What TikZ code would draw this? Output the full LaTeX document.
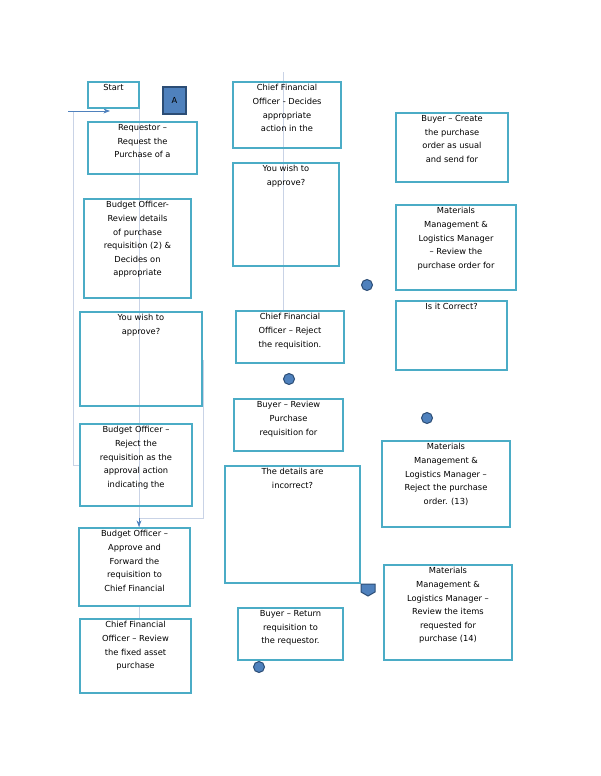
\documentclass[tikz,border=0pt]{standalone}
\usepackage{fontspec}
\setmainfont{DejaVu Sans}
\usetikzlibrary{arrows.meta,positioning,shapes.geometric}
\definecolor{boxline}{HTML}{4BACC6}
\definecolor{linkline}{HTML}{C9D3E6}
\definecolor{dotfill}{HTML}{4F81BD}
\definecolor{dotline}{HTML}{2C4D75}
\tikzset{>={Stealth[scale=1]}}
\tikzset{
  stepbox/.style={draw=boxline, line width=1.4pt, inner sep=0pt},
  steptext/.style={below=3pt, align=center, font=\fontsize{8.3}{13.6}\selectfont, inner sep=0pt},
  link/.style={draw=linkline, line width=0.8pt},
  dot/.style={circle, draw=dotline, fill=dotfill, line width=1pt, minimum size=11pt, inner sep=0pt},
}
% box from corner (x1,y1) to (x2,y2), text hanging from its top
\newcommand{\flowbox}[6]{%
  \node[stepbox, minimum width={#4-#2}, minimum height={#5-#3}] (#1) at ({(#2+#4)/2},{(#3+#5)/2}) {};
  \node[steptext] (#1t) at (#1.north) {#6};}
\begin{document}
\begin{tikzpicture}[x=1pt, y=-1pt]
      \useasboundingbox (0,0) rectangle (600,776);
      \coordinate (topl) at (68,111);
      \coordinate (loopl) at (73,111);
      \coordinate (loopr) at (203,518);
      \coordinate (cfotop) at (283,72);
      % connectors (behind the boxes)
      \draw[link] (139,108) -- (139,528);
      \draw[link] (139,606) -- (139,619);
      \draw[link] (topl) -- (loopl) |- (80,465);
      \draw[link, ->, dotfill] (topl) -- (110,111);
      \draw[link] (202,360) -| (loopr) -- (139,518);
      \draw[link, ->, dotfill] (139,518) -- (139,527);
      \draw[link] (cfotop) -- (283,311);
      % left column
      \flowbox{start}{88}{82}{139}{108}{Start}
      \node[draw=dotline, fill=dotfill, line width=1.2pt, minimum width=23pt, minimum height=27pt, inner sep=0pt,
        font=\fontsize{8.3}{10}\selectfont] (pageA) at (174.5,100.5) {A};
      \flowbox{request}{88}{122}{197}{174}{Requestor –\\Request the\\Purchase of a}
      \flowbox{budget}{84}{199}{191}{298}{Budget Officer-\\Review details\\of purchase\\requisition (2) \&\\Decides on\\appropriate}
      \flowbox{wishA}{80}{312}{202}{406}{You wish to\\approve?}
      \flowbox{rejectA}{80}{424}{192}{506}{Budget Officer –\\Reject the\\requisition as the\\approval action\\indicating the}
      \flowbox{approve}{79}{528}{190}{606}{Budget Officer –\\Approve and\\Forward the\\requisition to\\Chief Financial}
      \flowbox{cfoReview}{80}{619}{191}{693}{Chief Financial\\Officer – Review\\the fixed asset\\purchase}
      % middle column
      \flowbox{cfoDecide}{233}{82}{341}{148}{Chief Financial\\Officer - Decides\\appropriate\\action in the}
      \flowbox{wishB}{233}{163}{339}{266}{You wish to\\approve?}
      \flowbox{cfoReject}{236}{311}{344}{363}{Chief Financial\\Officer – Reject\\the requisition.}
      \flowbox{buyerReview}{234}{399}{343}{451}{Buyer – Review\\Purchase\\requisition for}
      \flowbox{details}{225}{466}{360}{583}{The details are\\incorrect?}
      \flowbox{buyerReturn}{238}{608}{343}{660}{Buyer – Return\\requisition to\\the requestor.}
      % right column
      \flowbox{buyerCreate}{396}{113}{508}{182}{Buyer – Create\\the purchase\\order as usual\\and send for}
      \flowbox{mmReview}{396}{205}{516}{290}{Materials\\Management \&\\Logistics Manager\\– Review the\\purchase order for}
      \flowbox{correct}{396}{301}{507}{370}{Is it Correct?}
      \flowbox{mmReject}{382}{441}{510}{527}{Materials\\Management \&\\Logistics Manager –\\Reject the purchase\\order. (13)}
      \flowbox{mmItems}{384}{565}{512}{660}{Materials\\Management \&\\Logistics Manager –\\Review the items\\requested for\\purchase (14)}
      % connector dots
      \node[dot] (dotA) at (367,285) {};
      \node[dot] (dotB) at (289,379) {};
      \node[dot] (dotC) at (427,418) {};
      \node[dot] (dotD) at (259,667) {};
      \draw[draw=dotline, fill=dotfill, line width=1pt] (361,584) -- (375,584) -- (375,592) -- (368,596) -- (361,592) -- cycle;
\end{tikzpicture}
\end{document}
